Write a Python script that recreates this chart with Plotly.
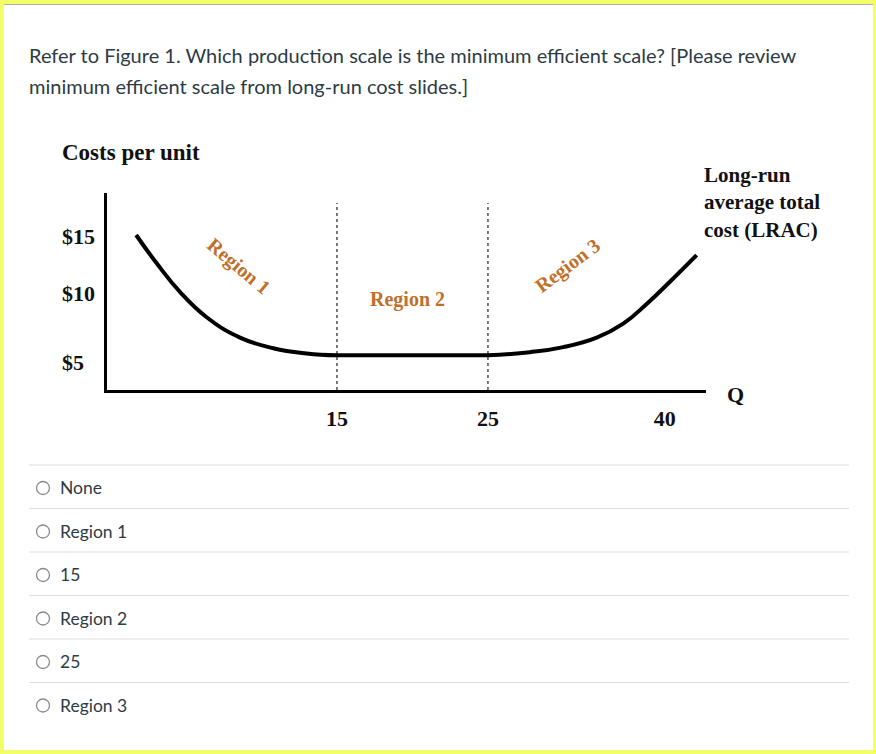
import plotly.graph_objects as go

W, H = 876, 754

# ---------------- data ----------------
question_lines = [
    "Refer to Figure 1. Which production scale is the minimum efficient scale? [Please review",
    "minimum efficient scale from long-run cost slides.]",
]
options = ["None", "Region 1", "15", "Region 2", "25", "Region 3"]

# LRAC curve (Q, cost per unit)
lrac_q = [1.7, 3.06, 4.6, 6.37, 8.58, 10.78, 12.99, 15.0, 25.0, 27.78, 29.99, 32.2, 33.96, 35.51, 37.05, 38.82]
lrac_cost = [15.08, 12.85, 10.6, 8.6, 7.0, 6.16, 5.75, 5.6, 5.6, 5.85, 6.25, 7.0, 8.1, 9.65, 11.4, 13.5]

q_tick_pos = [15, 25, 36.7]
q_tick_text = ["15", "25", "40"]
cost_tick_pos = [5, 10.5, 15]
cost_tick_text = ["$5", "$10", "$15"]
mes_bounds = [15, 25]

region_labels = ["Region 1", "Region 2", "Region 3"]
region_q = [8.5, 19.7, 30.3]
region_cost = [12.6, 10.0, 12.7]
region_angle = [40, 0, -37]

x_range = [-0.23, 39.44]
y_range = [2.87, 18.39]

# ---------------- helpers ----------------
def px(x):
    return x / W

def py(y):
    return 1 - y / H

YELLOW = "#F2FF66"
TEXT = "#2D3B45"
ORANGE = "#C0702A"
INK = "#111111"
SERIF = "Liberation Serif, Times New Roman, serif"
SANS = "Lato, sans-serif"

fig = go.Figure()

# split the LRAC curve at the minimum efficient scale bounds: falling, flat, rising
i_lo = lrac_q.index(mes_bounds[0])
i_hi = lrac_q.index(mes_bounds[1])
segments = [
    (lrac_q[: i_lo + 1], lrac_cost[: i_lo + 1], "spline"),
    (lrac_q[i_lo: i_hi + 1], lrac_cost[i_lo: i_hi + 1], "linear"),
    (lrac_q[i_hi:], lrac_cost[i_hi:], "spline"),
]
for xs, ys, shp in segments:
    fig.add_trace(go.Scatter(
        x=xs, y=ys, mode="lines",
        line=dict(color="black", width=4, shape=shp, smoothing=1.3),
        hoverinfo="skip", showlegend=False,
    ))

shapes = []
# white page on yellow border
shapes.append(dict(type="rect", xref="paper", yref="paper",
                   x0=px(4), x1=px(873), y0=py(750), y1=py(4),
                   fillcolor="white", line=dict(width=0), layer="below"))
shapes.append(dict(type="line", xref="paper", yref="paper",
                   x0=px(4), x1=px(873), y0=py(4.5), y1=py(4.5),
                   line=dict(color="#B0B0B0", width=1), layer="below"))

# dashed boundaries of region 2
for q in mes_bounds:
    shapes.append(dict(type="line", xref="x", yref="y",
                       x0=q, x1=q, y0=y_range[0], y1=17.6,
                       line=dict(color="#333333", width=1.3, dash="3px,3px"), layer="below"))

# option separators and radio circles
sep_y = [465, 508.5, 552, 595.5, 639, 682.5]
for i, opt in enumerate(options):
    y0 = sep_y[i]
    shapes.append(dict(type="line", xref="paper", yref="paper",
                       x0=px(29), x1=px(849), y0=py(y0), y1=py(y0),
                       line=dict(color="#DDDDDD", width=1), layer="below"))
    cy = y0 + 23
    r = 6.5
    shapes.append(dict(type="circle", xref="paper", yref="paper",
                       x0=px(43 - r), x1=px(43 + r), y0=py(cy + r), y1=py(cy - r),
                       line=dict(color="#8A8A8A", width=1.3), fillcolor="white"))

annotations = []
for i, line in enumerate(question_lines):
    annotations.append(dict(text=line, xref="paper", yref="paper",
                            x=px(27), y=py(55 + i * 31), xanchor="left", yanchor="middle",
                            showarrow=False, font=dict(family=SANS, size=20, color=TEXT)))
for i, opt in enumerate(options):
    annotations.append(dict(text=opt, xref="paper", yref="paper",
                            x=px(58), y=py(sep_y[i] + 22.5), xanchor="left", yanchor="middle",
                            showarrow=False, font=dict(family=SANS, size=17.5, color=TEXT)))

# y tick labels (left aligned as in the figure)
for pos, txt in zip(cost_tick_pos, cost_tick_text):
    annotations.append(dict(text=txt, xref="paper", yref="y", x=px(60), y=pos,
                            xanchor="left", yanchor="middle", showarrow=False,
                            font=dict(family=SERIF, size=22, color=INK, weight="bold")))

annotations.append(dict(text="Costs per unit", xref="paper", yref="paper",
                        x=px(60), y=py(153), xanchor="left", yanchor="middle", showarrow=False,
                        font=dict(family=SERIF, size=23, color=INK, weight="bold")))
annotations.append(dict(text="Long-run<br>average total<br>cost (LRAC)", xref="paper", yref="paper",
                        x=px(702), y=py(161), xanchor="left", yanchor="top", align="left",
                        showarrow=False,
                        font=dict(family=SERIF, size=21, color=INK, weight="bold")))
annotations.append(dict(text="Q", xref="paper", yref="paper",
                        x=px(735), y=py(394), xanchor="center", yanchor="middle", showarrow=False,
                        font=dict(family=SERIF, size=22, color=INK, weight="bold")))
for lab, q, c, a in zip(region_labels, region_q, region_cost, region_angle):
    annotations.append(dict(text=lab, xref="x", yref="y", x=q, y=c, textangle=a,
                            showarrow=False,
                            font=dict(family=SERIF, size=20, color=ORANGE, weight="bold")))

fig.update_layout(
    width=W, height=H,
    margin=dict(l=0, r=0, t=0, b=0),
    paper_bgcolor=YELLOW,
    plot_bgcolor="rgba(0,0,0,0)",
    showlegend=False,
    shapes=shapes,
    annotations=annotations,
    xaxis=dict(domain=[px(107), px(706)], range=x_range, showgrid=False, zeroline=False,
               showline=True, linecolor="black", linewidth=3,
               tickmode="array", tickvals=q_tick_pos, ticktext=q_tick_text, ticks="",
               ticklabelstandoff=7,
               tickfont=dict(family=SERIF, size=22, color=INK, weight="bold")),
    yaxis=dict(domain=[py(390), py(193)], range=y_range, showgrid=False, zeroline=False,
               showline=True, linecolor="black", linewidth=3,
               tickmode="array", tickvals=cost_tick_pos, showticklabels=False, ticks=""),
)

fig.write_html("out.html", config={"displayModeBar": False})
